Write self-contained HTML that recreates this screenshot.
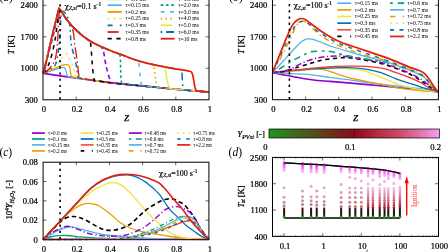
<!DOCTYPE html>
<html><head><meta charset="utf-8"><title>Figure</title>
<style>html,body{margin:0;padding:0;background:#fff;width:448px;height:252px;overflow:hidden}svg{display:block}</style>
</head><body>
<svg width="448" height="252" viewBox="0 0 448 252" font-family="'Liberation Serif', serif" fill="#000">
<rect width="448" height="252" fill="#fff"/>
<text x="37.8" y="102.89999999999999" font-size="8.6" text-anchor="end" stroke="#000" stroke-width="0.22">300</text>
<path d="M43.0,68.30 h3.5 M209.0,68.30 h-3.5" stroke="#000" stroke-width="0.6"/>
<text x="37.8" y="71.39999999999999" font-size="8.6" text-anchor="end" stroke="#000" stroke-width="0.22">1000</text>
<path d="M43.0,36.80 h3.5 M209.0,36.80 h-3.5" stroke="#000" stroke-width="0.6"/>
<text x="37.8" y="39.9" font-size="8.6" text-anchor="end" stroke="#000" stroke-width="0.22">1700</text>
<path d="M43.0,5.30 h3.5 M209.0,5.30 h-3.5" stroke="#000" stroke-width="0.6"/>
<text x="37.8" y="8.399999999999997" font-size="8.6" text-anchor="end" stroke="#000" stroke-width="0.22">2400</text>
<text x="43.9" y="112.1" font-size="8.6" text-anchor="middle" stroke="#000" stroke-width="0.22">0</text>
<path d="M76.20,99.8 v-3.2 M76.20,-8.200000000000003 v3.2" stroke="#000" stroke-width="0.6"/>
<text x="77.10000000000001" y="112.1" font-size="8.6" text-anchor="middle" stroke="#000" stroke-width="0.22">0.2</text>
<path d="M109.40,99.8 v-3.2 M109.40,-8.200000000000003 v3.2" stroke="#000" stroke-width="0.6"/>
<text x="110.30000000000001" y="112.1" font-size="8.6" text-anchor="middle" stroke="#000" stroke-width="0.22">0.4</text>
<path d="M142.60,99.8 v-3.2 M142.60,-8.200000000000003 v3.2" stroke="#000" stroke-width="0.6"/>
<text x="143.5" y="112.1" font-size="8.6" text-anchor="middle" stroke="#000" stroke-width="0.22">0.6</text>
<path d="M175.80,99.8 v-3.2 M175.80,-8.200000000000003 v3.2" stroke="#000" stroke-width="0.6"/>
<text x="176.70000000000002" y="112.1" font-size="8.6" text-anchor="middle" stroke="#000" stroke-width="0.22">0.8</text>
<text x="209.9" y="112.1" font-size="8.6" text-anchor="middle" stroke="#000" stroke-width="0.22">1</text>
<text x="267.25" y="102.8" font-size="8.6" text-anchor="end" stroke="#000" stroke-width="0.22">300</text>
<path d="M272.45,68.20 h3.5 M438.4,68.20 h-3.5" stroke="#000" stroke-width="0.6"/>
<text x="267.25" y="71.3" font-size="8.6" text-anchor="end" stroke="#000" stroke-width="0.22">1000</text>
<path d="M272.45,36.70 h3.5 M438.4,36.70 h-3.5" stroke="#000" stroke-width="0.6"/>
<text x="267.25" y="39.800000000000004" font-size="8.6" text-anchor="end" stroke="#000" stroke-width="0.22">1700</text>
<path d="M272.45,5.20 h3.5 M438.4,5.20 h-3.5" stroke="#000" stroke-width="0.6"/>
<text x="267.25" y="8.300000000000002" font-size="8.6" text-anchor="end" stroke="#000" stroke-width="0.22">2400</text>
<text x="273.34999999999997" y="112.0" font-size="8.6" text-anchor="middle" stroke="#000" stroke-width="0.22">0</text>
<path d="M305.64,99.7 v-3.2 M305.64,-8.299999999999997 v3.2" stroke="#000" stroke-width="0.6"/>
<text x="306.53999999999996" y="112.0" font-size="8.6" text-anchor="middle" stroke="#000" stroke-width="0.22">0.2</text>
<path d="M338.83,99.7 v-3.2 M338.83,-8.299999999999997 v3.2" stroke="#000" stroke-width="0.6"/>
<text x="339.72999999999996" y="112.0" font-size="8.6" text-anchor="middle" stroke="#000" stroke-width="0.22">0.4</text>
<path d="M372.02,99.7 v-3.2 M372.02,-8.299999999999997 v3.2" stroke="#000" stroke-width="0.6"/>
<text x="372.91999999999996" y="112.0" font-size="8.6" text-anchor="middle" stroke="#000" stroke-width="0.22">0.6</text>
<path d="M405.21,99.7 v-3.2 M405.21,-8.299999999999997 v3.2" stroke="#000" stroke-width="0.6"/>
<text x="406.10999999999996" y="112.0" font-size="8.6" text-anchor="middle" stroke="#000" stroke-width="0.22">0.8</text>
<text x="439.29999999999995" y="112.0" font-size="8.6" text-anchor="middle" stroke="#000" stroke-width="0.22">1</text>
<text x="37.9" y="242.6" font-size="8.6" text-anchor="end" stroke="#000" stroke-width="0.22">0</text>
<path d="M43.1,220.18 h3.5 M208.9,220.18 h-3.5" stroke="#000" stroke-width="0.6"/>
<text x="37.9" y="223.275" font-size="8.6" text-anchor="end" stroke="#000" stroke-width="0.22">0.02</text>
<path d="M43.1,200.85 h3.5 M208.9,200.85 h-3.5" stroke="#000" stroke-width="0.6"/>
<text x="37.9" y="203.95" font-size="8.6" text-anchor="end" stroke="#000" stroke-width="0.22">0.04</text>
<path d="M43.1,181.52 h3.5 M208.9,181.52 h-3.5" stroke="#000" stroke-width="0.6"/>
<text x="37.9" y="184.62499999999997" font-size="8.6" text-anchor="end" stroke="#000" stroke-width="0.22">0.06</text>
<text x="37.9" y="165.29999999999998" font-size="8.6" text-anchor="end" stroke="#000" stroke-width="0.22">0.08</text>
<text x="44.0" y="251.5" font-size="8.6" text-anchor="middle" stroke="#000" stroke-width="0.22">0</text>
<path d="M76.26,239.5 v-3.2 M76.26,162.2 v3.2" stroke="#000" stroke-width="0.6"/>
<text x="77.16000000000001" y="251.5" font-size="8.6" text-anchor="middle" stroke="#000" stroke-width="0.22">0.2</text>
<path d="M109.42,239.5 v-3.2 M109.42,162.2 v3.2" stroke="#000" stroke-width="0.6"/>
<text x="110.32000000000002" y="251.5" font-size="8.6" text-anchor="middle" stroke="#000" stroke-width="0.22">0.4</text>
<path d="M142.58,239.5 v-3.2 M142.58,162.2 v3.2" stroke="#000" stroke-width="0.6"/>
<text x="143.48000000000002" y="251.5" font-size="8.6" text-anchor="middle" stroke="#000" stroke-width="0.22">0.6</text>
<path d="M175.74,239.5 v-3.2 M175.74,162.2 v3.2" stroke="#000" stroke-width="0.6"/>
<text x="176.64000000000001" y="251.5" font-size="8.6" text-anchor="middle" stroke="#000" stroke-width="0.22">0.8</text>
<text x="209.8" y="251.5" font-size="8.6" text-anchor="middle" stroke="#000" stroke-width="0.22">1</text>
<text x="267.3" y="239.5" font-size="8.6" text-anchor="end" stroke="#000" stroke-width="0.22">400</text>
<path d="M272.5,210.07 h3.5 M438.5,210.07 h-3.5" stroke="#000" stroke-width="0.6"/>
<text x="267.3" y="213.16666666666666" font-size="8.6" text-anchor="end" stroke="#000" stroke-width="0.22">1100</text>
<path d="M272.5,183.73 h3.5 M438.5,183.73 h-3.5" stroke="#000" stroke-width="0.6"/>
<text x="267.3" y="186.83333333333334" font-size="8.6" text-anchor="end" stroke="#000" stroke-width="0.22">1800</text>
<text x="267.3" y="160.5" font-size="8.6" text-anchor="end" stroke="#000" stroke-width="0.22">2500</text>
<path d="M284.12,236.4 v-3.2 M284.12,157.4 v3.2" stroke="#000" stroke-width="0.6"/>
<text x="285.01837497776074" y="248.70000000000002" font-size="8.6" text-anchor="middle" stroke="#000" stroke-width="0.22">0.1</text>
<path d="M322.71,236.4 v-3.2 M322.71,157.4 v3.2" stroke="#000" stroke-width="0.6"/>
<text x="323.61378123332054" y="248.70000000000002" font-size="8.6" text-anchor="middle" stroke="#000" stroke-width="0.22">1</text>
<path d="M361.31,236.4 v-3.2 M361.31,157.4 v3.2" stroke="#000" stroke-width="0.6"/>
<text x="362.2091874888804" y="248.70000000000002" font-size="8.6" text-anchor="middle" stroke="#000" stroke-width="0.22">10</text>
<path d="M399.90,236.4 v-3.2 M399.90,157.4 v3.2" stroke="#000" stroke-width="0.6"/>
<text x="400.8045937444402" y="248.70000000000002" font-size="8.6" text-anchor="middle" stroke="#000" stroke-width="0.22">100</text>
<text x="439.4" y="248.70000000000002" font-size="8.6" text-anchor="middle" stroke="#000" stroke-width="0.22">1000</text>
<path d="M275.56,236.4 v-1.6 M275.56,157.4 v1.6 M278.14,236.4 v-1.6 M278.14,157.4 v1.6 M280.38,236.4 v-1.6 M280.38,157.4 v1.6 M282.35,236.4 v-1.6 M282.35,157.4 v1.6 M295.74,236.4 v-1.6 M295.74,157.4 v1.6 M302.53,236.4 v-1.6 M302.53,157.4 v1.6 M307.36,236.4 v-1.6 M307.36,157.4 v1.6 M311.10,236.4 v-1.6 M311.10,157.4 v1.6 M314.15,236.4 v-1.6 M314.15,157.4 v1.6 M316.74,236.4 v-1.6 M316.74,157.4 v1.6 M318.97,236.4 v-1.6 M318.97,157.4 v1.6 M320.95,236.4 v-1.6 M320.95,157.4 v1.6 M334.33,236.4 v-1.6 M334.33,157.4 v1.6 M341.13,236.4 v-1.6 M341.13,157.4 v1.6 M345.95,236.4 v-1.6 M345.95,157.4 v1.6 M349.69,236.4 v-1.6 M349.69,157.4 v1.6 M352.75,236.4 v-1.6 M352.75,157.4 v1.6 M355.33,236.4 v-1.6 M355.33,157.4 v1.6 M357.57,236.4 v-1.6 M357.57,157.4 v1.6 M359.54,236.4 v-1.6 M359.54,157.4 v1.6 M372.93,236.4 v-1.6 M372.93,157.4 v1.6 M379.72,236.4 v-1.6 M379.72,157.4 v1.6 M384.55,236.4 v-1.6 M384.55,157.4 v1.6 M388.29,236.4 v-1.6 M388.29,157.4 v1.6 M391.34,236.4 v-1.6 M391.34,157.4 v1.6 M393.93,236.4 v-1.6 M393.93,157.4 v1.6 M396.16,236.4 v-1.6 M396.16,157.4 v1.6 M398.14,236.4 v-1.6 M398.14,157.4 v1.6 M411.52,236.4 v-1.6 M411.52,157.4 v1.6 M418.32,236.4 v-1.6 M418.32,157.4 v1.6 M423.14,236.4 v-1.6 M423.14,157.4 v1.6 M426.88,236.4 v-1.6 M426.88,157.4 v1.6 M429.94,236.4 v-1.6 M429.94,157.4 v1.6 M432.52,236.4 v-1.6 M432.52,157.4 v1.6 M434.76,236.4 v-1.6 M434.76,157.4 v1.6 M436.73,236.4 v-1.6 M436.73,157.4 v1.6 " stroke="#444" stroke-width="0.5"/>
<rect x="366.6" y="249.6" width="1.0" height="2.4" fill="#666"/>
<path d="M43.20,73.40 C46.67,73.88 56.20,75.22 64.00,76.30 C71.80,77.38 81.67,78.77 90.00,79.90 C98.33,81.03 104.00,81.97 114.00,83.10 C124.00,84.23 140.00,85.70 150.00,86.70 C160.00,87.70 166.33,88.38 174.00,89.10 C181.67,89.82 190.17,90.52 196.00,91.00 C201.83,91.48 206.83,91.83 209.00,92.00" stroke="#9400d3" stroke-width="1.7" fill="none" stroke-linejoin="round" />
<path d="M43.20,73.40 C44.33,73.03 47.92,71.87 50.00,71.20 C52.08,70.53 54.03,69.90 55.70,69.40 C57.37,68.90 58.73,68.53 60.00,68.20 C61.27,67.87 62.47,67.38 63.30,67.40 C64.13,67.42 64.52,67.62 65.00,68.30 C65.48,68.98 65.87,70.42 66.20,71.50 C66.53,72.58 66.67,73.95 67.00,74.80 C67.33,75.65 67.37,76.20 68.20,76.60 C69.03,77.00 68.37,76.65 72.00,77.20 C75.63,77.75 83.00,78.92 90.00,79.90 C97.00,80.88 104.00,81.97 114.00,83.10 C124.00,84.23 140.00,85.70 150.00,86.70 C160.00,87.70 166.33,88.38 174.00,89.10 C181.67,89.82 190.17,90.52 196.00,91.00 C201.83,91.48 206.83,91.83 209.00,92.00" stroke="#56b4e9" stroke-width="1.2" fill="none" stroke-linejoin="round" />
<path d="M43.20,73.40 C44.33,72.92 47.92,71.40 50.00,70.50 C52.08,69.60 54.03,68.75 55.70,68.00 C57.37,67.25 58.70,66.53 60.00,66.00 C61.30,65.47 62.32,65.02 63.50,64.80 C64.68,64.58 66.12,64.47 67.10,64.70 C68.08,64.93 68.88,65.32 69.40,66.20 C69.92,67.08 69.97,68.67 70.20,70.00 C70.43,71.33 70.53,73.10 70.80,74.20 C71.07,75.30 71.18,76.07 71.80,76.60 C72.42,77.13 71.47,76.85 74.50,77.40 C77.53,77.95 83.42,78.95 90.00,79.90 C96.58,80.85 104.00,81.97 114.00,83.10 C124.00,84.23 140.00,85.70 150.00,86.70 C160.00,87.70 166.33,88.38 174.00,89.10 C181.67,89.82 190.17,90.52 196.00,91.00 C201.83,91.48 206.83,91.83 209.00,92.00" stroke="#e69f00" stroke-width="1.3" fill="none" stroke-linejoin="round" />
<path d="M43.20,73.40 C44.67,72.50 49.28,69.97 52.00,68.00 C54.72,66.03 57.72,63.38 59.50,61.60 C61.28,59.82 61.70,58.57 62.70,57.30 C63.70,56.03 64.70,54.42 65.50,54.00 C66.30,53.58 66.75,53.80 67.50,54.80 C68.25,55.80 69.12,58.17 70.00,60.00 C70.88,61.83 72.12,63.98 72.80,65.80 C73.48,67.62 73.67,69.10 74.10,70.90 C74.53,72.70 74.83,75.42 75.40,76.60 C75.97,77.78 75.07,77.45 77.50,78.00 C79.93,78.55 83.92,79.05 90.00,79.90 C96.08,80.75 104.00,81.97 114.00,83.10 C124.00,84.23 140.00,85.70 150.00,86.70 C160.00,87.70 166.33,88.38 174.00,89.10 C181.67,89.82 190.17,90.52 196.00,91.00 C201.83,91.48 206.83,91.83 209.00,92.00" stroke="#f0e442" stroke-width="1.6" fill="none" stroke-dasharray="2,4" stroke-linejoin="round" />
<path d="M43.20,73.40 C44.33,72.75 47.95,70.98 50.00,69.50 C52.05,68.02 54.13,67.42 55.50,64.50 C56.87,61.58 57.45,56.92 58.20,52.00 C58.95,47.08 59.57,40.33 60.00,35.00 C60.43,29.67 60.50,23.75 60.80,20.00 C61.10,16.25 61.35,13.92 61.80,12.50 C62.25,11.08 62.63,10.92 63.50,11.50 C64.37,12.08 66.00,13.92 67.00,16.00 C68.00,18.08 68.93,20.83 69.50,24.00 C70.07,27.17 70.07,31.33 70.40,35.00 C70.73,38.67 70.87,42.50 71.50,46.00 C72.13,49.50 73.42,52.83 74.20,56.00 C74.98,59.17 75.70,62.33 76.20,65.00 C76.70,67.67 76.87,69.93 77.20,72.00 C77.53,74.07 77.57,76.35 78.20,77.40 C78.83,78.45 79.03,77.88 81.00,78.30 C82.97,78.72 84.50,79.10 90.00,79.90 C95.50,80.70 104.00,81.97 114.00,83.10 C124.00,84.23 140.00,85.70 150.00,86.70 C160.00,87.70 166.33,88.38 174.00,89.10 C181.67,89.82 190.17,90.52 196.00,91.00 C201.83,91.48 206.83,91.83 209.00,92.00" stroke="#0072b2" stroke-width="1.5" fill="none" stroke-dasharray="5,3.5,1.7,3.5" stroke-linejoin="round" />
<path d="M43.20,73.40 C44.33,72.50 47.95,70.57 50.00,68.00 C52.05,65.43 54.25,62.33 55.50,58.00 C56.75,53.67 57.00,47.50 57.50,42.00 C58.00,36.50 58.17,30.25 58.50,25.00 C58.83,19.75 59.00,12.75 59.50,10.50 C60.00,8.25 60.37,10.05 61.50,11.50 C62.63,12.95 64.63,16.75 66.30,19.20 C67.97,21.65 70.28,23.73 71.50,26.20 C72.72,28.67 73.05,30.87 73.60,34.00 C74.15,37.13 74.32,41.33 74.80,45.00 C75.28,48.67 76.00,52.50 76.50,56.00 C77.00,59.50 77.45,63.00 77.80,66.00 C78.15,69.00 78.30,72.00 78.60,74.00 C78.90,76.00 79.03,77.23 79.60,78.00 C80.17,78.77 80.27,78.28 82.00,78.60 C83.73,78.92 84.67,79.15 90.00,79.90 C95.33,80.65 104.00,81.97 114.00,83.10 C124.00,84.23 140.00,85.70 150.00,86.70 C160.00,87.70 166.33,88.38 174.00,89.10 C181.67,89.82 190.17,90.52 196.00,91.00 C201.83,91.48 206.83,91.83 209.00,92.00" stroke="#e51e10" stroke-width="1.4" fill="none" stroke-dasharray="11,3,1.5,3" stroke-linejoin="round" />
<path d="M43.20,73.40 C44.02,72.13 46.65,68.98 48.10,65.80 C49.55,62.62 50.67,59.10 51.90,54.30 C53.13,49.50 54.32,44.62 55.50,37.00 C56.68,29.38 58.42,13.33 59.00,8.60 C59.42,9.10 60.28,9.87 61.50,11.60 C62.72,13.33 64.43,16.50 66.30,19.00 C68.17,21.50 71.08,24.80 72.70,26.60 C74.32,28.40 74.33,28.25 76.00,29.80 C77.67,31.35 80.48,34.11 82.70,35.90 C84.92,37.69 87.92,38.78 89.30,40.56 C90.68,42.33 90.51,42.89 90.98,46.55 C91.44,50.21 91.58,57.06 92.11,62.52 C92.63,67.98 93.38,76.25 94.10,79.29 C94.82,82.33 93.08,80.12 96.40,80.75 C99.72,81.39 105.07,82.11 114.00,83.10 C122.93,84.09 140.00,85.70 150.00,86.70 C160.00,87.70 166.33,88.38 174.00,89.10 C181.67,89.82 190.17,90.52 196.00,91.00 C201.83,91.48 206.83,91.83 209.00,92.00" stroke="#000000" stroke-width="1.5" fill="none" stroke-dasharray="4.2,4.6" stroke-linejoin="round" />
<path d="M43.20,73.40 C43.58,71.92 44.37,68.73 45.50,64.50 C46.63,60.27 48.50,53.75 50.00,48.00 C51.50,42.25 53.00,36.62 54.50,30.00 C56.00,23.38 58.25,11.92 59.00,8.30 C59.42,8.85 60.28,9.82 61.50,11.60 C62.72,13.38 64.43,16.50 66.30,19.00 C68.17,21.50 71.08,24.80 72.70,26.60 C74.32,28.40 74.33,28.25 76.00,29.80 C77.67,31.35 80.45,34.08 82.70,35.90 C84.95,37.72 87.25,39.32 89.50,40.70 C91.75,42.08 94.37,43.27 96.20,44.20 C98.03,45.13 99.29,45.03 100.50,46.29 C101.71,47.54 102.53,48.41 103.48,51.74 C104.42,55.08 104.99,61.34 106.16,66.30 C107.34,71.25 109.39,78.70 110.50,81.47 C111.61,84.25 112.22,82.67 112.80,82.94 C113.38,83.21 107.80,82.47 114.00,83.10 C120.20,83.73 140.00,85.70 150.00,86.70 C160.00,87.70 166.33,88.38 174.00,89.10 C181.67,89.82 190.17,90.52 196.00,91.00 C201.83,91.48 206.83,91.83 209.00,92.00" stroke="#9400d3" stroke-width="1.6" fill="none" stroke-dasharray="4.5,3.2" stroke-linejoin="round" />
<path d="M43.20,73.40 C44.50,67.92 48.37,51.38 51.00,40.50 C53.63,29.62 57.67,13.50 59.00,8.10 C59.42,8.68 60.28,9.78 61.50,11.60 C62.72,13.42 64.43,16.50 66.30,19.00 C68.17,21.50 71.08,24.80 72.70,26.60 C74.32,28.40 74.33,28.25 76.00,29.80 C77.67,31.35 80.45,34.08 82.70,35.90 C84.95,37.72 87.25,39.32 89.50,40.70 C91.75,42.08 93.95,43.07 96.20,44.20 C98.45,45.33 100.75,46.48 103.00,47.50 C105.25,48.52 107.47,49.40 109.70,50.30 C111.93,51.20 114.80,52.29 116.40,52.90 C118.00,53.51 118.65,53.01 119.30,53.93 C119.95,54.85 120.10,55.68 120.33,58.42 C120.55,61.17 120.48,66.36 120.67,70.40 C120.87,74.45 120.98,80.40 121.50,82.68 C122.02,84.96 119.05,83.41 123.80,84.08 C128.55,84.75 141.63,85.86 150.00,86.70 C158.37,87.54 166.33,88.38 174.00,89.10 C181.67,89.82 190.17,90.52 196.00,91.00 C201.83,91.48 206.83,91.83 209.00,92.00" stroke="#009e73" stroke-width="1.5" fill="none" stroke-dasharray="2.7,2.5" stroke-linejoin="round" />
<path d="M43.20,73.40 C44.50,67.92 48.37,51.38 51.00,40.50 C53.63,29.62 57.67,13.50 59.00,8.10 C59.42,8.68 60.28,9.78 61.50,11.60 C62.72,13.42 64.43,16.50 66.30,19.00 C68.17,21.50 71.08,24.80 72.70,26.60 C74.32,28.40 74.33,28.25 76.00,29.80 C77.67,31.35 80.45,34.08 82.70,35.90 C84.95,37.72 87.25,39.32 89.50,40.70 C91.75,42.08 93.95,43.07 96.20,44.20 C98.45,45.33 100.75,46.48 103.00,47.50 C105.25,48.52 107.47,49.40 109.70,50.30 C111.93,51.20 114.02,52.02 116.40,52.90 C118.78,53.78 121.40,54.62 124.00,55.60 C126.60,56.58 129.75,57.98 132.00,58.80 C134.25,59.62 136.34,59.59 137.50,60.51 C138.66,61.43 138.58,61.99 138.97,64.32 C139.37,66.64 139.44,71.07 139.87,74.46 C140.29,77.86 140.84,82.74 141.50,84.68 C142.16,86.62 142.38,85.74 143.80,86.08 C145.22,86.42 144.97,86.20 150.00,86.70 C155.03,87.20 166.33,88.38 174.00,89.10 C181.67,89.82 190.17,90.52 196.00,91.00 C201.83,91.48 206.83,91.83 209.00,92.00" stroke="#56b4e9" stroke-width="1.5" fill="none" stroke-dasharray="3.8,5.5" stroke-linejoin="round" />
<path d="M43.20,73.40 C44.50,67.92 48.37,51.38 51.00,40.50 C53.63,29.62 57.67,13.50 59.00,8.10 C59.42,8.68 60.28,9.78 61.50,11.60 C62.72,13.42 64.43,16.50 66.30,19.00 C68.17,21.50 71.08,24.80 72.70,26.60 C74.32,28.40 74.33,28.25 76.00,29.80 C77.67,31.35 80.45,34.08 82.70,35.90 C84.95,37.72 87.25,39.32 89.50,40.70 C91.75,42.08 93.95,43.07 96.20,44.20 C98.45,45.33 100.75,46.48 103.00,47.50 C105.25,48.52 107.47,49.40 109.70,50.30 C111.93,51.20 114.02,52.02 116.40,52.90 C118.78,53.78 121.40,54.62 124.00,55.60 C126.60,56.58 129.17,57.80 132.00,58.80 C134.83,59.80 138.17,60.78 141.00,61.60 C143.83,62.42 147.08,63.23 149.00,63.70 C150.92,64.17 151.64,63.75 152.50,64.45 C153.36,65.15 153.69,65.79 154.15,67.90 C154.61,70.01 154.74,74.04 155.25,77.10 C155.76,80.16 156.49,84.49 157.20,86.25 C157.91,88.01 156.70,87.18 159.50,87.65 C162.30,88.12 167.92,88.54 174.00,89.10 C180.08,89.66 190.17,90.52 196.00,91.00 C201.83,91.48 206.83,91.83 209.00,92.00" stroke="#e69f00" stroke-width="1.6" fill="none" stroke-dasharray="1.5,3.2" stroke-linejoin="round" />
<path d="M43.20,73.40 C44.50,67.92 48.37,51.38 51.00,40.50 C53.63,29.62 57.67,13.50 59.00,8.10 C59.42,8.68 60.28,9.78 61.50,11.60 C62.72,13.42 64.43,16.50 66.30,19.00 C68.17,21.50 71.08,24.80 72.70,26.60 C74.32,28.40 74.33,28.25 76.00,29.80 C77.67,31.35 80.45,34.08 82.70,35.90 C84.95,37.72 87.25,39.32 89.50,40.70 C91.75,42.08 93.95,43.07 96.20,44.20 C98.45,45.33 100.75,46.48 103.00,47.50 C105.25,48.52 107.47,49.40 109.70,50.30 C111.93,51.20 114.02,52.02 116.40,52.90 C118.78,53.78 121.40,54.62 124.00,55.60 C126.60,56.58 129.17,57.80 132.00,58.80 C134.83,59.80 138.17,60.78 141.00,61.60 C143.83,62.42 146.18,63.03 149.00,63.70 C151.82,64.37 155.48,65.10 157.90,65.60 C160.32,66.10 162.25,65.97 163.50,66.71 C164.75,67.44 164.85,67.99 165.40,70.00 C165.95,72.01 166.17,75.87 166.80,78.78 C167.43,81.68 168.42,85.77 169.20,87.45 C169.98,89.13 170.70,88.57 171.50,88.85 C172.30,89.12 169.92,88.74 174.00,89.10 C178.08,89.46 190.17,90.52 196.00,91.00 C201.83,91.48 206.83,91.83 209.00,92.00" stroke="#f0e442" stroke-width="1.4" fill="none" stroke-linejoin="round" />
<path d="M43.20,73.40 C44.50,67.92 48.37,51.38 51.00,40.50 C53.63,29.62 57.67,13.50 59.00,8.10 C59.42,8.68 60.28,9.78 61.50,11.60 C62.72,13.42 64.43,16.50 66.30,19.00 C68.17,21.50 71.08,24.80 72.70,26.60 C74.32,28.40 74.33,28.25 76.00,29.80 C77.67,31.35 80.45,34.08 82.70,35.90 C84.95,37.72 87.25,39.32 89.50,40.70 C91.75,42.08 93.95,43.07 96.20,44.20 C98.45,45.33 100.75,46.48 103.00,47.50 C105.25,48.52 107.47,49.40 109.70,50.30 C111.93,51.20 114.02,52.02 116.40,52.90 C118.78,53.78 121.40,54.62 124.00,55.60 C126.60,56.58 129.17,57.80 132.00,58.80 C134.83,59.80 138.17,60.78 141.00,61.60 C143.83,62.42 146.18,63.03 149.00,63.70 C151.82,64.37 155.07,65.02 157.90,65.60 C160.73,66.18 163.18,66.67 166.00,67.20 C168.82,67.73 172.30,68.38 174.80,68.80 C177.30,69.22 179.80,69.08 181.00,69.74 C182.20,70.41 181.80,70.92 182.03,72.77 C182.25,74.62 182.18,78.18 182.38,80.84 C182.57,83.50 182.68,87.18 183.20,88.72 C183.72,90.26 183.37,89.71 185.50,90.09 C187.63,90.47 192.08,90.68 196.00,91.00 C199.92,91.32 206.83,91.83 209.00,92.00" stroke="#0072b2" stroke-width="1.5" fill="none" stroke-dasharray="1.6,3.9,7.8,3.9" stroke-linejoin="round" />
<path d="M43.20,73.40 C43.67,71.75 44.70,68.98 46.00,63.50 C47.30,58.02 49.50,47.05 51.00,40.50 C52.50,33.95 53.67,29.60 55.00,24.20 C56.33,18.80 58.33,10.78 59.00,8.10 C59.42,8.68 60.28,9.78 61.50,11.60 C62.72,13.42 64.43,16.50 66.30,19.00 C68.17,21.50 71.08,24.80 72.70,26.60 C74.32,28.40 74.33,28.25 76.00,29.80 C77.67,31.35 80.45,34.08 82.70,35.90 C84.95,37.72 87.25,39.32 89.50,40.70 C91.75,42.08 93.95,43.07 96.20,44.20 C98.45,45.33 100.75,46.48 103.00,47.50 C105.25,48.52 107.47,49.40 109.70,50.30 C111.93,51.20 114.02,52.02 116.40,52.90 C118.78,53.78 121.40,54.62 124.00,55.60 C126.60,56.58 129.17,57.80 132.00,58.80 C134.83,59.80 138.17,60.78 141.00,61.60 C143.83,62.42 146.18,63.03 149.00,63.70 C151.82,64.37 155.07,65.02 157.90,65.60 C160.73,66.18 163.18,66.67 166.00,67.20 C168.82,67.73 171.80,68.30 174.80,68.80 C177.80,69.30 181.53,69.80 184.00,70.20 C186.47,70.60 188.33,70.87 189.60,71.20 C190.87,71.53 191.07,71.53 191.60,72.20 C192.13,72.87 192.48,74.10 192.80,75.20 C193.12,76.30 193.23,77.25 193.50,78.80 C193.77,80.35 194.08,82.82 194.40,84.50 C194.72,86.18 194.98,87.83 195.40,88.90 C195.82,89.97 196.13,90.50 196.90,90.90 C197.67,91.30 197.98,91.12 200.00,91.30 C202.02,91.48 207.50,91.88 209.00,92.00" stroke="#e51e10" stroke-width="1.7" fill="none" stroke-linejoin="round" />
<path d="M60.1,99.40 V3.0" stroke="#000" stroke-width="1.6" stroke-dasharray="2.1,4.1"/>
<path d="M272.45,72.60 C275.38,73.17 283.46,74.82 290.00,76.00 C296.54,77.18 305.03,78.80 311.70,79.70 C318.37,80.60 323.95,80.87 330.00,81.40 C336.05,81.93 339.67,82.17 348.00,82.90 C356.33,83.63 369.67,84.82 380.00,85.80 C390.33,86.78 400.27,87.78 410.00,88.80 C419.73,89.82 433.67,91.38 438.40,91.90" stroke="#9400d3" stroke-width="1.6" fill="none" stroke-linejoin="round" />
<path d="M272.45,72.60 C275.38,72.77 284.07,73.30 290.00,73.60 C295.93,73.90 301.33,73.77 308.00,74.40 C314.67,75.03 323.33,76.53 330.00,77.40 C336.67,78.27 339.67,78.47 348.00,79.60 C356.33,80.73 368.00,82.68 380.00,84.20 C392.00,85.72 410.27,87.42 420.00,88.70 C429.73,89.98 435.33,91.37 438.40,91.90" stroke="#56b4e9" stroke-width="1.3" fill="none" stroke-linejoin="round" />
<path d="M272.45,72.60 C275.38,72.43 284.57,72.03 290.00,71.60 C295.43,71.17 300.67,70.40 305.00,70.00 C309.33,69.60 312.83,69.27 316.00,69.20 C319.17,69.13 321.33,69.10 324.00,69.60 C326.67,70.10 328.00,70.90 332.00,72.20 C336.00,73.50 342.50,75.90 348.00,77.40 C353.50,78.90 359.67,80.10 365.00,81.20 C370.33,82.30 374.83,82.93 380.00,84.00 C385.17,85.07 390.17,86.60 396.00,87.60 C401.83,88.60 407.93,89.28 415.00,90.00 C422.07,90.72 434.50,91.58 438.40,91.90" stroke="#e69f00" stroke-width="1.3" fill="none" stroke-linejoin="round" />
<path d="M272.45,72.60 C275.38,72.33 283.74,71.55 290.00,71.00 C296.26,70.45 303.33,69.77 310.00,69.30 C316.67,68.83 324.33,68.35 330.00,68.20 C335.67,68.05 339.83,68.20 344.00,68.40 C348.17,68.60 351.50,68.93 355.00,69.40 C358.50,69.87 360.83,69.97 365.00,71.20 C369.17,72.43 374.83,74.73 380.00,76.80 C385.17,78.87 391.33,81.90 396.00,83.60 C400.67,85.30 404.00,86.00 408.00,87.00 C412.00,88.00 414.93,88.78 420.00,89.60 C425.07,90.42 435.33,91.52 438.40,91.90" stroke="#f0e442" stroke-width="1.3" fill="none" stroke-linejoin="round" />
<path d="M272.45,72.60 C275.38,72.30 283.74,71.40 290.00,70.80 C296.26,70.20 303.33,69.47 310.00,69.00 C316.67,68.53 323.67,68.23 330.00,68.00 C336.33,67.77 342.33,67.47 348.00,67.60 C353.67,67.73 358.67,68.00 364.00,68.80 C369.33,69.60 374.67,70.73 380.00,72.40 C385.33,74.07 391.33,77.07 396.00,78.80 C400.67,80.53 404.00,81.47 408.00,82.80 C412.00,84.13 416.33,85.68 420.00,86.80 C423.67,87.92 426.93,88.65 430.00,89.50 C433.07,90.35 437.00,91.50 438.40,91.90" stroke="#0072b2" stroke-width="1.3" fill="none" stroke-linejoin="round" />
<path d="M272.45,72.60 C275.38,72.27 284.07,71.23 290.00,70.60 C295.93,69.97 302.33,69.37 308.00,68.80 C313.67,68.23 317.33,67.63 324.00,67.20 C330.67,66.77 341.00,66.33 348.00,66.20 C355.00,66.07 360.00,66.00 366.00,66.40 C372.00,66.80 379.00,67.57 384.00,68.60 C389.00,69.63 392.00,71.22 396.00,72.60 C400.00,73.98 404.03,75.30 408.00,76.90 C411.97,78.50 416.80,80.68 419.80,82.20 C422.80,83.72 423.97,84.78 426.00,86.00 C428.03,87.22 429.93,88.52 432.00,89.50 C434.07,90.48 437.33,91.50 438.40,91.90" stroke="#f03a30" stroke-width="1.3" fill="none" stroke-linejoin="round" />
<path d="M272.45,72.60 C274.54,72.38 281.11,72.08 285.00,71.30 C288.89,70.52 291.62,69.20 295.80,67.90 C299.98,66.60 306.48,64.62 310.10,63.50 C313.72,62.38 314.68,61.90 317.50,61.20 C320.32,60.50 323.82,59.80 327.00,59.30 C330.18,58.80 333.10,58.45 336.60,58.20 C340.10,57.95 343.43,57.50 348.00,57.80 C352.57,58.10 358.33,59.00 364.00,60.00 C369.67,61.00 376.67,62.40 382.00,63.80 C387.33,65.20 391.67,66.83 396.00,68.40 C400.33,69.97 404.03,71.27 408.00,73.20 C411.97,75.13 416.53,77.93 419.80,80.00 C423.07,82.07 425.55,84.23 427.60,85.60 C429.65,86.97 430.30,87.15 432.10,88.20 C433.90,89.25 437.35,91.28 438.40,91.90" stroke="#000000" stroke-width="1.5" fill="none" stroke-dasharray="4.2,3.6" stroke-linejoin="round" />
<path d="M272.45,72.60 C275.02,72.17 283.47,71.33 287.90,70.00 C292.32,68.67 295.65,66.17 299.00,64.60 C302.35,63.03 304.92,61.70 308.00,60.60 C311.08,59.50 314.33,58.68 317.50,58.00 C320.67,57.32 323.82,56.85 327.00,56.50 C330.18,56.15 333.43,55.88 336.60,55.90 C339.77,55.92 341.43,56.05 346.00,56.60 C350.57,57.15 358.00,58.17 364.00,59.20 C370.00,60.23 376.67,61.40 382.00,62.80 C387.33,64.20 391.67,66.00 396.00,67.60 C400.33,69.20 404.23,70.70 408.00,72.40 C411.77,74.10 415.33,75.83 418.60,77.80 C421.87,79.77 425.20,82.40 427.60,84.20 C430.00,86.00 431.20,87.32 433.00,88.60 C434.80,89.88 437.50,91.35 438.40,91.90" stroke="#9400d3" stroke-width="1.5" fill="none" stroke-dasharray="6,2.5,1.2,2.5" stroke-linejoin="round" />
<path d="M272.45,72.60 C273.56,72.03 276.26,70.92 279.10,69.20 C281.94,67.48 286.18,64.28 289.50,62.30 C292.82,60.32 296.42,58.65 299.00,57.30 C301.58,55.95 303.00,55.12 305.00,54.20 C307.00,53.28 307.85,52.33 311.00,51.80 C314.15,51.27 320.43,51.00 323.90,51.00 C327.37,51.00 328.45,51.13 331.80,51.80 C335.15,52.47 338.63,53.87 344.00,55.00 C349.37,56.13 357.33,57.43 364.00,58.60 C370.67,59.77 378.67,60.87 384.00,62.00 C389.33,63.13 392.00,64.13 396.00,65.40 C400.00,66.67 404.00,68.07 408.00,69.60 C412.00,71.13 417.23,73.30 420.00,74.60 C422.77,75.90 423.08,76.00 424.60,77.40 C426.12,78.80 427.60,81.20 429.10,83.00 C430.60,84.80 432.05,86.72 433.60,88.20 C435.15,89.68 437.60,91.28 438.40,91.90" stroke="#009e73" stroke-width="1.5" fill="none" stroke-dasharray="2.8,4.5,6.4,4.5" stroke-linejoin="round" />
<path d="M272.45,72.60 C273.38,71.62 276.07,68.77 278.00,66.70 C279.93,64.63 282.08,62.32 284.00,60.20 C285.92,58.08 287.53,56.15 289.50,54.00 C291.47,51.85 293.82,49.33 295.80,47.30 C297.78,45.27 299.87,43.08 301.40,41.80 C302.93,40.52 303.90,40.08 305.00,39.60 C306.10,39.12 306.83,38.97 308.00,38.90 C309.17,38.83 310.67,38.97 312.00,39.20 C313.33,39.43 314.02,39.60 316.00,40.30 C317.98,41.00 321.27,42.37 323.90,43.40 C326.53,44.43 327.78,45.17 331.80,46.50 C335.82,47.83 342.63,49.82 348.00,51.40 C353.37,52.98 358.00,54.37 364.00,56.00 C370.00,57.63 378.67,59.67 384.00,61.20 C389.33,62.73 392.00,63.80 396.00,65.20 C400.00,66.60 404.00,68.03 408.00,69.60 C412.00,71.17 417.23,73.27 420.00,74.60 C422.77,75.93 423.08,76.17 424.60,77.60 C426.12,79.03 427.60,81.42 429.10,83.20 C430.60,84.98 432.05,86.85 433.60,88.30 C435.15,89.75 437.60,91.30 438.40,91.90" stroke="#56b4e9" stroke-width="1.3" fill="none" stroke-linejoin="round" />
<path d="M272.45,72.60 C273.04,71.47 274.74,68.07 276.00,65.80 C277.26,63.53 278.67,61.33 280.00,59.00 C281.33,56.67 282.68,54.30 284.00,51.80 C285.32,49.30 286.73,46.37 287.90,44.00 C289.07,41.63 290.07,39.68 291.00,37.60 C291.93,35.52 292.70,33.33 293.50,31.50 C294.30,29.67 294.80,28.08 295.80,26.60 C296.80,25.12 298.18,23.48 299.50,22.60 C300.82,21.72 302.33,21.23 303.70,21.30 C305.07,21.37 306.32,21.92 307.70,23.00 C309.08,24.08 310.28,26.07 312.00,27.80 C313.72,29.53 316.02,31.77 318.00,33.40 C319.98,35.03 321.07,35.83 323.90,37.60 C326.73,39.37 330.98,42.03 335.00,44.00 C339.02,45.97 343.17,47.60 348.00,49.40 C352.83,51.20 358.00,53.00 364.00,54.80 C370.00,56.60 378.67,58.57 384.00,60.20 C389.33,61.83 392.00,63.13 396.00,64.60 C400.00,66.07 404.00,67.43 408.00,69.00 C412.00,70.57 417.23,72.67 420.00,74.00 C422.77,75.33 423.08,75.53 424.60,77.00 C426.12,78.47 427.60,80.95 429.10,82.80 C430.60,84.65 432.05,86.58 433.60,88.10 C435.15,89.62 437.60,91.27 438.40,91.90" stroke="#e69f00" stroke-width="1.5" fill="none" stroke-dasharray="5.3,4,1.4,4" stroke-linejoin="round" />
<path d="M272.45,72.60 C273.71,69.80 277.82,60.67 280.00,55.80 C282.18,50.93 283.83,47.07 285.50,43.40 C287.17,39.73 288.58,36.57 290.00,33.80 C291.42,31.03 292.67,28.73 294.00,26.80 C295.33,24.87 296.67,23.23 298.00,22.20 C299.33,21.17 300.67,20.73 302.00,20.60 C303.33,20.47 304.50,20.63 306.00,21.40 C307.50,22.17 309.00,23.60 311.00,25.20 C313.00,26.80 315.07,28.93 318.00,31.00 C320.93,33.07 324.93,35.53 328.60,37.60 C332.27,39.67 336.77,41.93 340.00,43.40 C343.23,44.87 344.00,44.97 348.00,46.40 C352.00,47.83 358.00,49.92 364.00,52.00 C370.00,54.08 378.67,57.00 384.00,58.90 C389.33,60.80 392.00,61.85 396.00,63.40 C400.00,64.95 404.00,66.50 408.00,68.20 C412.00,69.90 417.23,72.20 420.00,73.60 C422.77,75.00 423.08,75.13 424.60,76.60 C426.12,78.07 427.60,80.52 429.10,82.40 C430.60,84.28 432.05,86.32 433.60,87.90 C435.15,89.48 437.60,91.23 438.40,91.90" stroke="#f0e442" stroke-width="1.5" fill="none" stroke-dasharray="1.6,4.6" stroke-linejoin="round" />
<path d="M272.45,72.60 C273.71,69.93 277.74,61.40 280.00,56.60 C282.26,51.80 284.33,47.33 286.00,43.80 C287.67,40.27 288.67,38.07 290.00,35.40 C291.33,32.73 292.67,29.87 294.00,27.80 C295.33,25.73 296.67,24.10 298.00,23.00 C299.33,21.90 300.67,21.37 302.00,21.20 C303.33,21.03 304.50,21.23 306.00,22.00 C307.50,22.77 309.00,24.20 311.00,25.80 C313.00,27.40 315.07,29.53 318.00,31.60 C320.93,33.67 324.93,36.13 328.60,38.20 C332.27,40.27 336.77,42.53 340.00,44.00 C343.23,45.47 344.00,45.57 348.00,47.00 C352.00,48.43 358.00,50.50 364.00,52.60 C370.00,54.70 378.67,57.70 384.00,59.60 C389.33,61.50 392.00,62.47 396.00,64.00 C400.00,65.53 404.00,67.13 408.00,68.80 C412.00,70.47 417.23,72.63 420.00,74.00 C422.77,75.37 423.08,75.55 424.60,77.00 C426.12,78.45 427.60,80.87 429.10,82.70 C430.60,84.53 432.05,86.47 433.60,88.00 C435.15,89.53 437.60,91.25 438.40,91.90" stroke="#0072b2" stroke-width="1.4" fill="none" stroke-dasharray="4,5.5" stroke-linejoin="round" />
<path d="M272.45,72.60 C273.12,70.90 275.12,65.82 276.50,62.40 C277.88,58.98 279.47,55.15 280.70,52.10 C281.93,49.05 282.70,47.02 283.90,44.10 C285.10,41.18 286.72,37.35 287.90,34.60 C289.08,31.85 289.95,29.58 291.00,27.60 C292.05,25.62 293.00,24.05 294.20,22.70 C295.40,21.35 297.00,20.20 298.20,19.50 C299.40,18.80 300.22,18.50 301.40,18.50 C302.58,18.50 303.85,18.75 305.30,19.50 C306.75,20.25 308.33,21.67 310.10,23.00 C311.87,24.33 313.60,25.83 315.90,27.50 C318.20,29.17 321.25,31.28 323.90,33.00 C326.55,34.72 329.17,36.35 331.80,37.80 C334.43,39.25 337.00,40.52 339.70,41.70 C342.40,42.88 344.63,43.73 348.00,44.90 C351.37,46.07 355.28,47.17 359.90,48.70 C364.52,50.23 371.68,52.73 375.70,54.10 C379.72,55.47 380.62,55.68 384.00,56.90 C387.38,58.12 392.02,59.78 396.00,61.40 C399.98,63.02 403.93,65.03 407.90,66.60 C411.87,68.17 417.02,69.63 419.80,70.80 C422.58,71.97 423.05,72.23 424.60,73.60 C426.15,74.97 427.72,77.10 429.10,79.00 C430.48,80.90 431.63,83.10 432.90,85.00 C434.17,86.90 435.78,89.25 436.70,90.40 C437.62,91.55 438.12,91.65 438.40,91.90" stroke="#e51e10" stroke-width="1.7" fill="none" stroke-linejoin="round" />
<path d="M289.4,99.30 V1.0" stroke="#000" stroke-width="1.6" stroke-dasharray="2.3,3.9"/>
<path d="M43.1,239.5 H208.9" stroke="#9400d3" stroke-width="1.4" fill="none" stroke-linejoin="round" />
<path d="M43.10,239.50 C44.25,239.08 47.40,237.63 50.00,237.00 C52.60,236.37 55.87,235.95 58.70,235.70 C61.53,235.45 62.83,235.25 67.00,235.50 C71.17,235.75 76.20,236.67 83.70,237.20 C91.20,237.73 100.95,238.35 112.00,238.70 C123.05,239.05 133.85,239.17 150.00,239.30 C166.15,239.43 199.08,239.47 208.90,239.50" stroke="#009e73" stroke-width="1.3" fill="none" stroke-linejoin="round" />
<path d="M43.10,239.50 C44.25,238.75 47.40,236.55 50.00,235.00 C52.60,233.45 55.58,231.53 58.70,230.20 C61.82,228.87 65.82,227.40 68.70,227.00 C71.58,226.60 73.50,227.33 76.00,227.80 C78.50,228.27 79.65,228.77 83.70,229.80 C87.75,230.83 94.25,232.90 100.30,234.00 C106.35,235.10 111.72,235.67 120.00,236.40 C128.28,237.13 135.18,237.88 150.00,238.40 C164.82,238.92 199.08,239.32 208.90,239.50" stroke="#56b4e9" stroke-width="1.3" fill="none" stroke-linejoin="round" />
<path d="M43.10,239.50 C45.08,237.42 51.35,230.83 55.00,227.00 C58.65,223.17 61.67,219.62 65.00,216.50 C68.33,213.38 72.17,210.28 75.00,208.30 C77.83,206.32 79.72,205.43 82.00,204.60 C84.28,203.77 86.53,203.35 88.70,203.30 C90.87,203.25 93.12,203.77 95.00,204.30 C96.88,204.83 97.50,204.93 100.00,206.50 C102.50,208.07 106.67,211.03 110.00,213.70 C113.33,216.37 116.67,220.12 120.00,222.50 C123.33,224.88 126.67,226.55 130.00,228.00 C133.33,229.45 136.67,230.33 140.00,231.20 C143.33,232.07 145.00,232.32 150.00,233.20 C155.00,234.08 163.33,235.58 170.00,236.50 C176.67,237.42 183.52,238.20 190.00,238.70 C196.48,239.20 205.75,239.37 208.90,239.50" stroke="#e69f00" stroke-width="1.3" fill="none" stroke-linejoin="round" />
<path d="M43.10,239.50 C45.92,236.52 53.93,227.93 60.00,221.60 C66.07,215.27 74.50,206.33 79.50,201.50 C84.50,196.67 86.58,195.08 90.00,192.60 C93.42,190.12 97.17,188.10 100.00,186.60 C102.83,185.10 105.00,184.28 107.00,183.60 C109.00,182.92 110.33,182.57 112.00,182.50 C113.67,182.43 115.33,182.68 117.00,183.20 C118.67,183.72 120.50,184.63 122.00,185.60 C123.50,186.57 124.33,187.50 126.00,189.00 C127.67,190.50 129.67,192.12 132.00,194.60 C134.33,197.08 137.33,200.82 140.00,203.90 C142.67,206.98 146.00,210.88 148.00,213.10 C150.00,215.32 150.18,215.45 152.00,217.20 C153.82,218.95 156.40,221.37 158.90,223.60 C161.40,225.83 164.30,228.63 167.00,230.60 C169.70,232.57 171.27,234.03 175.10,235.40 C178.93,236.77 184.37,238.12 190.00,238.80 C195.63,239.48 205.75,239.38 208.90,239.50" stroke="#f0e442" stroke-width="1.3" fill="none" stroke-linejoin="round" />
<path d="M43.10,239.50 C45.92,236.47 53.93,227.85 60.00,221.30 C66.07,214.75 74.33,205.67 79.50,200.20 C84.67,194.73 87.25,191.70 91.00,188.50 C94.75,185.30 98.50,182.92 102.00,181.00 C105.50,179.08 108.83,177.97 112.00,177.00 C115.17,176.03 118.08,175.53 121.00,175.20 C123.92,174.87 127.00,174.73 129.50,175.00 C132.00,175.27 134.25,176.18 136.00,176.80 C137.75,177.42 138.33,177.77 140.00,178.70 C141.67,179.63 144.33,181.25 146.00,182.40 C147.67,183.55 148.33,184.18 150.00,185.60 C151.67,187.02 154.33,189.30 156.00,190.90 C157.67,192.50 158.70,193.55 160.00,195.20 C161.30,196.85 162.53,198.93 163.80,200.80 C165.07,202.67 166.43,204.77 167.60,206.40 C168.77,208.03 168.73,208.47 170.80,210.60 C172.87,212.73 177.47,216.77 180.00,219.20 C182.53,221.63 183.33,222.97 186.00,225.20 C188.67,227.43 193.33,230.70 196.00,232.60 C198.67,234.50 199.85,235.45 202.00,236.60 C204.15,237.75 207.75,239.02 208.90,239.50" stroke="#0072b2" stroke-width="1.3" fill="none" stroke-linejoin="round" />
<path d="M43.10,239.50 C49.25,239.48 68.85,239.48 80.00,239.40 C91.15,239.32 101.67,239.37 110.00,239.00 C118.33,238.63 123.33,238.20 130.00,237.20 C136.67,236.20 144.17,234.45 150.00,233.00 C155.83,231.55 160.33,230.03 165.00,228.50 C169.67,226.97 174.50,225.02 178.00,223.80 C181.50,222.58 183.67,221.63 186.00,221.20 C188.33,220.77 190.17,220.65 192.00,221.20 C193.83,221.75 195.33,222.87 197.00,224.50 C198.67,226.13 200.02,228.50 202.00,231.00 C203.98,233.50 207.75,238.08 208.90,239.50" stroke="#f03a30" stroke-width="1.3" fill="none" stroke-linejoin="round" />
<path d="M43.10,239.50 C44.58,237.92 49.13,232.95 52.00,230.00 C54.87,227.05 57.80,223.87 60.30,221.80 C62.80,219.73 64.77,218.48 67.00,217.60 C69.23,216.72 71.53,216.47 73.70,216.50 C75.87,216.53 77.78,217.08 80.00,217.80 C82.22,218.52 84.17,219.33 87.00,220.80 C89.83,222.27 94.00,225.08 97.00,226.60 C100.00,228.12 102.00,229.33 105.00,229.90 C108.00,230.47 111.67,230.48 115.00,230.00 C118.33,229.52 122.17,228.20 125.00,227.00 C127.83,225.80 129.67,224.60 132.00,222.80 C134.33,221.00 136.83,218.20 139.00,216.20 C141.17,214.20 143.17,212.30 145.00,210.80 C146.83,209.30 148.17,208.40 150.00,207.20 C151.83,206.00 154.12,204.67 156.00,203.60 C157.88,202.53 159.63,201.53 161.30,200.80 C162.97,200.07 164.38,199.53 166.00,199.20 C167.62,198.87 169.50,198.73 171.00,198.80 C172.50,198.87 173.67,199.10 175.00,199.60 C176.33,200.10 177.52,200.98 179.00,201.80 C180.48,202.62 182.40,203.30 183.90,204.50 C185.40,205.70 186.70,207.45 188.00,209.00 C189.30,210.55 190.37,211.88 191.70,213.80 C193.03,215.72 194.45,217.88 196.00,220.50 C197.55,223.12 198.85,226.33 201.00,229.50 C203.15,232.67 207.58,237.83 208.90,239.50" stroke="#000000" stroke-width="1.6" fill="none" stroke-dasharray="4.5,3" stroke-linejoin="round" />
<path d="M43.10,239.50 C44.25,238.58 47.40,235.72 50.00,234.00 C52.60,232.28 55.87,230.48 58.70,229.20 C61.53,227.92 64.23,226.47 67.00,226.30 C69.77,226.13 71.97,227.08 75.30,228.20 C78.63,229.32 82.83,231.77 87.00,233.00 C91.17,234.23 96.47,235.07 100.30,235.60 C104.13,236.13 105.88,236.27 110.00,236.20 C114.12,236.13 120.00,236.32 125.00,235.20 C130.00,234.08 135.83,231.53 140.00,229.50 C144.17,227.47 146.68,225.55 150.00,223.00 C153.32,220.45 157.20,216.50 159.90,214.20 C162.60,211.90 163.62,210.47 166.20,209.20 C168.78,207.93 172.35,206.67 175.40,206.60 C178.45,206.53 181.77,207.53 184.50,208.80 C187.23,210.07 189.72,212.00 191.80,214.20 C193.88,216.40 195.30,219.20 197.00,222.00 C198.70,224.80 200.02,228.08 202.00,231.00 C203.98,233.92 207.75,238.08 208.90,239.50" stroke="#9400d3" stroke-width="1.4" fill="none" stroke-dasharray="6,2.5,1.2,2.5" stroke-linejoin="round" />
<path d="M43.10,239.50 C50.92,239.48 78.02,239.52 90.00,239.40 C101.98,239.28 108.33,239.20 115.00,238.80 C121.67,238.40 125.00,238.08 130.00,237.00 C135.00,235.92 140.83,233.70 145.00,232.30 C149.17,230.90 151.67,230.07 155.00,228.60 C158.33,227.13 161.65,225.18 165.00,223.50 C168.35,221.82 172.27,219.65 175.10,218.50 C177.93,217.35 179.82,216.88 182.00,216.60 C184.18,216.32 186.20,216.23 188.20,216.80 C190.20,217.37 192.20,218.22 194.00,220.00 C195.80,221.78 197.33,225.00 199.00,227.50 C200.67,230.00 202.35,233.00 204.00,235.00 C205.65,237.00 208.08,238.75 208.90,239.50" stroke="#009e73" stroke-width="1.3" fill="none" stroke-dasharray="1,2.5,4.5,2.5" stroke-linejoin="round" />
<path d="M43.10,239.50 C50.92,239.48 78.02,239.53 90.00,239.40 C101.98,239.27 108.33,239.07 115.00,238.70 C121.67,238.33 125.00,238.02 130.00,237.20 C135.00,236.38 140.83,234.90 145.00,233.80 C149.17,232.70 151.67,231.90 155.00,230.60 C158.33,229.30 161.65,227.68 165.00,226.00 C168.35,224.32 172.27,221.97 175.10,220.50 C177.93,219.03 179.82,217.90 182.00,217.20 C184.18,216.50 186.37,216.10 188.20,216.30 C190.03,216.50 191.37,216.95 193.00,218.40 C194.63,219.85 196.33,222.48 198.00,225.00 C199.67,227.52 201.18,231.08 203.00,233.50 C204.82,235.92 207.92,238.50 208.90,239.50" stroke="#56b4e9" stroke-width="1.3" fill="none" stroke-linejoin="round" />
<path d="M43.10,239.50 C52.58,239.48 87.18,239.58 100.00,239.40 C112.82,239.22 113.33,239.07 120.00,238.40 C126.67,237.73 134.17,236.47 140.00,235.40 C145.83,234.33 150.50,233.40 155.00,232.00 C159.50,230.60 163.17,228.83 167.00,227.00 C170.83,225.17 174.83,222.47 178.00,221.00 C181.17,219.53 183.83,218.57 186.00,218.20 C188.17,217.83 189.33,217.92 191.00,218.80 C192.67,219.68 194.33,221.38 196.00,223.50 C197.67,225.62 198.85,228.83 201.00,231.50 C203.15,234.17 207.58,238.17 208.90,239.50" stroke="#e69f00" stroke-width="1.3" fill="none" stroke-dasharray="4,3.5,1,3.5" stroke-linejoin="round" />
<path d="M43.10,239.50 C52.58,239.48 87.18,239.62 100.00,239.40 C112.82,239.18 113.33,238.93 120.00,238.20 C126.67,237.47 134.17,236.13 140.00,235.00 C145.83,233.87 150.50,232.87 155.00,231.40 C159.50,229.93 163.17,228.05 167.00,226.20 C170.83,224.35 174.83,221.73 178.00,220.30 C181.17,218.87 183.83,217.92 186.00,217.60 C188.17,217.28 189.33,217.47 191.00,218.40 C192.67,219.33 194.33,221.05 196.00,223.20 C197.67,225.35 198.85,228.58 201.00,231.30 C203.15,234.02 207.58,238.13 208.90,239.50" stroke="#f0e442" stroke-width="1.3" fill="none" stroke-dasharray="1.2,2.5" stroke-linejoin="round" />
<path d="M43.10,239.50 C52.58,239.48 87.18,239.55 100.00,239.40 C112.82,239.25 113.33,239.17 120.00,238.60 C126.67,238.03 134.17,236.93 140.00,236.00 C145.83,235.07 150.50,234.23 155.00,233.00 C159.50,231.77 163.17,230.27 167.00,228.60 C170.83,226.93 174.83,224.40 178.00,223.00 C181.17,221.60 183.83,220.62 186.00,220.20 C188.17,219.78 189.33,219.78 191.00,220.50 C192.67,221.22 194.33,222.58 196.00,224.50 C197.67,226.42 198.85,229.50 201.00,232.00 C203.15,234.50 207.58,238.25 208.90,239.50" stroke="#0072b2" stroke-width="1.3" fill="none" stroke-dasharray="3,4" stroke-linejoin="round" />
<path d="M43.10,239.50 C45.92,236.45 53.93,227.78 60.00,221.20 C66.07,214.62 74.33,205.53 79.50,200.00 C84.67,194.47 87.25,191.25 91.00,188.00 C94.75,184.75 98.50,182.45 102.00,180.50 C105.50,178.55 109.00,177.28 112.00,176.30 C115.00,175.32 117.50,174.95 120.00,174.60 C122.50,174.25 124.67,174.18 127.00,174.20 C129.33,174.22 131.83,174.45 134.00,174.70 C136.17,174.95 138.00,175.25 140.00,175.70 C142.00,176.15 144.33,176.87 146.00,177.40 C147.67,177.93 148.33,178.23 150.00,178.90 C151.67,179.57 154.33,180.62 156.00,181.40 C157.67,182.18 158.28,182.12 160.00,183.60 C161.72,185.08 164.18,187.87 166.30,190.30 C168.42,192.73 170.42,195.53 172.70,198.20 C174.98,200.87 178.02,204.00 180.00,206.30 C181.98,208.60 182.60,209.38 184.60,212.00 C186.60,214.62 189.43,218.83 192.00,222.00 C194.57,225.17 197.18,228.08 200.00,231.00 C202.82,233.92 207.42,238.08 208.90,239.50" stroke="#e51e10" stroke-width="1.6" fill="none" stroke-linejoin="round" />
<path d="M60.1,239.10 V162.2" stroke="#000" stroke-width="1.6" stroke-dasharray="2.1,4.1"/>
<defs><linearGradient id="cb" x1="0" x2="1" y1="0" y2="0"><stop offset="0" stop-color="#1c961e"/><stop offset="0.5" stop-color="#8b0a1a"/><stop offset="0.62" stop-color="#b0283a"/><stop offset="0.76" stop-color="#cc4a64"/><stop offset="0.88" stop-color="#e070a4"/><stop offset="1" stop-color="#f79ef6"/></linearGradient><linearGradient id="dbar" x1="0" x2="0" y1="0" y2="1"><stop offset="0" stop-color="#5a1018"/><stop offset="0.45" stop-color="#2a0c08"/><stop offset="1" stop-color="#141a08"/></linearGradient></defs>
<rect x="269.0" y="129.0" width="170.60000000000002" height="9.0" fill="url(#cb)" stroke="#000" stroke-width="0.7"/>
<path d="M354.60,129.0 V138.0" stroke="#000" stroke-width="0.6" stroke-dasharray="1,1"/>
<text x="265.4" y="150.2" font-size="8.6" text-anchor="middle" stroke="#000" stroke-width="0.22">0</text>
<text x="350.3" y="150.2" font-size="8.6" text-anchor="middle" stroke="#000" stroke-width="0.22">0.1</text>
<text x="435.7" y="150.2" font-size="8.6" text-anchor="middle" stroke="#000" stroke-width="0.22">0.2</text>
<text x="237.2" y="137.0" font-size="8.6" stroke="#000" stroke-width="0.22"><tspan font-style="italic">Y</tspan><tspan font-size="6.4" font-style="italic" dy="1.8">PVst</tspan><tspan dy="-1.8"> [-]</tspan></text>
<path d="M284.12,162.90 C287.19,163.05 298.04,163.57 302.53,163.80 C307.03,164.03 308.73,164.17 311.10,164.30 C313.46,164.43 314.56,164.48 316.74,164.60 C318.91,164.72 320.09,164.70 324.16,165.00 C328.22,165.30 336.87,166.08 341.13,166.40 C345.38,166.72 347.32,166.75 349.69,166.90 C352.06,167.05 353.39,167.15 355.33,167.30 C357.27,167.45 359.18,167.62 361.31,167.80 C363.44,167.98 366.17,168.23 368.11,168.40 C370.04,168.57 370.99,168.60 372.93,168.80 C374.86,169.00 377.79,169.37 379.72,169.60 C381.66,169.83 383.12,170.00 384.55,170.20 C385.97,170.40 386.72,170.53 388.29,170.80 C389.85,171.07 391.99,171.37 393.93,171.80 C395.86,172.23 398.91,173.13 399.90,173.40" stroke="#000" stroke-width="1.3" fill="none"/>
<path d="M284.12,218.0 H399.90" stroke="#000" stroke-width="1.3"/>
<rect x="283.12" y="207.6" width="2.0" height="9.0" fill="url(#dbar)"/>
<rect x="301.53" y="207.6" width="2.0" height="9.0" fill="url(#dbar)"/>
<rect x="310.10" y="207.6" width="2.0" height="9.0" fill="url(#dbar)"/>
<rect x="315.74" y="207.6" width="2.0" height="9.0" fill="url(#dbar)"/>
<rect x="323.16" y="207.6" width="2.0" height="9.0" fill="url(#dbar)"/>
<rect x="340.13" y="207.6" width="2.0" height="9.0" fill="url(#dbar)"/>
<rect x="348.69" y="207.6" width="2.0" height="9.0" fill="url(#dbar)"/>
<rect x="354.33" y="207.6" width="2.0" height="9.0" fill="url(#dbar)"/>
<rect x="360.31" y="207.6" width="2.0" height="9.0" fill="url(#dbar)"/>
<rect x="367.11" y="206.8" width="2.0" height="9.8" fill="url(#dbar)"/>
<rect x="371.93" y="206.8" width="2.0" height="9.8" fill="url(#dbar)"/>
<rect x="378.72" y="206.8" width="2.0" height="9.8" fill="url(#dbar)"/>
<rect x="383.55" y="206.8" width="2.0" height="9.8" fill="url(#dbar)"/>
<rect x="387.29" y="206.8" width="2.0" height="9.8" fill="url(#dbar)"/>
<rect x="392.93" y="206.8" width="2.0" height="9.8" fill="url(#dbar)"/>
<rect x="398.90" y="206.8" width="2.0" height="9.8" fill="url(#dbar)"/>
<circle cx="284.12" cy="217.10" r="1.45" fill="#2a8a2a"/>
<circle cx="284.12" cy="187.80" r="1.5" fill="#eaa6cc"/>
<circle cx="284.12" cy="197.20" r="1.5" fill="#dc9eb0"/>
<circle cx="284.12" cy="202.20" r="1.5" fill="#cc9098"/>
<circle cx="284.12" cy="205.80" r="1.5" fill="#b88484"/>
<circle cx="284.12" cy="170.50" r="1.5" fill="#f8b8f4"/>
<circle cx="284.12" cy="168.50" r="1.5" fill="#f6a0f2"/>
<circle cx="284.12" cy="166.50" r="1.5" fill="#f47cf0"/>
<circle cx="284.12" cy="164.50" r="1.5" fill="#f058ee"/>
<circle cx="284.12" cy="162.70" r="1.5" fill="#ee44ec"/>
<circle cx="302.53" cy="217.10" r="1.45" fill="#2a8a2a"/>
<circle cx="302.53" cy="191.10" r="1.5" fill="#dc9eb0"/>
<circle cx="302.53" cy="196.70" r="1.5" fill="#dc9eb0"/>
<circle cx="302.53" cy="200.80" r="1.5" fill="#cc9098"/>
<circle cx="302.53" cy="204.40" r="1.5" fill="#b88484"/>
<circle cx="302.53" cy="171.40" r="1.5" fill="#f8b8f4"/>
<circle cx="302.53" cy="169.40" r="1.5" fill="#f6a0f2"/>
<circle cx="302.53" cy="167.40" r="1.5" fill="#f47cf0"/>
<circle cx="302.53" cy="165.40" r="1.5" fill="#f058ee"/>
<circle cx="302.53" cy="163.60" r="1.5" fill="#ee44ec"/>
<circle cx="311.10" cy="217.10" r="1.45" fill="#2a8a2a"/>
<circle cx="311.10" cy="186.30" r="1.5" fill="#eaa6cc"/>
<circle cx="311.10" cy="196.70" r="1.5" fill="#dc9eb0"/>
<circle cx="311.10" cy="200.80" r="1.5" fill="#cc9098"/>
<circle cx="311.10" cy="204.40" r="1.5" fill="#b88484"/>
<circle cx="311.10" cy="171.90" r="1.5" fill="#f8b8f4"/>
<circle cx="311.10" cy="169.90" r="1.5" fill="#f6a0f2"/>
<circle cx="311.10" cy="167.90" r="1.5" fill="#f47cf0"/>
<circle cx="311.10" cy="165.90" r="1.5" fill="#f058ee"/>
<circle cx="311.10" cy="164.10" r="1.5" fill="#ee44ec"/>
<circle cx="316.74" cy="217.10" r="1.45" fill="#2a8a2a"/>
<circle cx="316.74" cy="191.10" r="1.5" fill="#dc9eb0"/>
<circle cx="316.74" cy="196.70" r="1.5" fill="#dc9eb0"/>
<circle cx="316.74" cy="202.00" r="1.5" fill="#cc9098"/>
<circle cx="316.74" cy="205.20" r="1.5" fill="#b88484"/>
<circle cx="316.74" cy="172.20" r="1.5" fill="#f8b8f4"/>
<circle cx="316.74" cy="170.20" r="1.5" fill="#f6a0f2"/>
<circle cx="316.74" cy="168.20" r="1.5" fill="#f47cf0"/>
<circle cx="316.74" cy="166.20" r="1.5" fill="#f058ee"/>
<circle cx="316.74" cy="164.40" r="1.5" fill="#ee44ec"/>
<circle cx="324.16" cy="217.10" r="1.45" fill="#2a8a2a"/>
<circle cx="324.16" cy="187.80" r="1.5" fill="#eaa6cc"/>
<circle cx="324.16" cy="196.70" r="1.5" fill="#dc9eb0"/>
<circle cx="324.16" cy="201.60" r="1.5" fill="#cc9098"/>
<circle cx="324.16" cy="205.00" r="1.5" fill="#b88484"/>
<circle cx="324.16" cy="172.60" r="1.5" fill="#f8b8f4"/>
<circle cx="324.16" cy="170.60" r="1.5" fill="#f6a0f2"/>
<circle cx="324.16" cy="168.60" r="1.5" fill="#f47cf0"/>
<circle cx="324.16" cy="166.60" r="1.5" fill="#f058ee"/>
<circle cx="324.16" cy="164.80" r="1.5" fill="#ee44ec"/>
<circle cx="341.13" cy="217.10" r="1.45" fill="#2a8a2a"/>
<circle cx="341.13" cy="184.40" r="1.5" fill="#eeb0d8"/>
<circle cx="341.13" cy="192.50" r="1.5" fill="#dd9fba"/>
<circle cx="341.13" cy="197.40" r="1.5" fill="#d193a4"/>
<circle cx="341.13" cy="202.20" r="1.5" fill="#c4868e"/>
<circle cx="341.13" cy="206.40" r="1.5" fill="#ba7c7b"/>
<circle cx="341.13" cy="184.40" r="1.5" fill="#eeb0d8"/>
<circle cx="341.13" cy="171.40" r="1.5" fill="#f6aaf2"/>
<circle cx="341.13" cy="169.00" r="1.5" fill="#f27cf0"/>
<circle cx="341.13" cy="166.60" r="1.5" fill="#ee50ec"/>
<circle cx="349.69" cy="217.10" r="1.45" fill="#2a8a2a"/>
<circle cx="349.69" cy="188.10" r="1.5" fill="#e9abce"/>
<circle cx="349.69" cy="192.50" r="1.5" fill="#dd9fba"/>
<circle cx="349.69" cy="197.40" r="1.5" fill="#d193a4"/>
<circle cx="349.69" cy="202.20" r="1.5" fill="#c4868e"/>
<circle cx="349.69" cy="206.40" r="1.5" fill="#ba7c7b"/>
<circle cx="349.69" cy="177.20" r="1.5" fill="#eeb0d8"/>
<circle cx="349.69" cy="171.90" r="1.5" fill="#f6aaf2"/>
<circle cx="349.69" cy="169.50" r="1.5" fill="#f27cf0"/>
<circle cx="349.69" cy="167.10" r="1.5" fill="#ee50ec"/>
<circle cx="355.33" cy="217.10" r="1.45" fill="#2a8a2a"/>
<circle cx="355.33" cy="188.10" r="1.5" fill="#e9abce"/>
<circle cx="355.33" cy="192.50" r="1.5" fill="#dd9fba"/>
<circle cx="355.33" cy="197.40" r="1.5" fill="#d193a4"/>
<circle cx="355.33" cy="202.20" r="1.5" fill="#c4868e"/>
<circle cx="355.33" cy="206.40" r="1.5" fill="#ba7c7b"/>
<circle cx="355.33" cy="178.60" r="1.5" fill="#eeb0d8"/>
<circle cx="355.33" cy="172.30" r="1.5" fill="#f6aaf2"/>
<circle cx="355.33" cy="169.90" r="1.5" fill="#f27cf0"/>
<circle cx="355.33" cy="167.50" r="1.5" fill="#ee50ec"/>
<circle cx="361.31" cy="217.10" r="1.45" fill="#2a8a2a"/>
<circle cx="361.31" cy="188.10" r="1.5" fill="#e9abce"/>
<circle cx="361.31" cy="192.50" r="1.5" fill="#dd9fba"/>
<circle cx="361.31" cy="197.40" r="1.5" fill="#d193a4"/>
<circle cx="361.31" cy="202.20" r="1.5" fill="#c4868e"/>
<circle cx="361.31" cy="206.40" r="1.5" fill="#ba7c7b"/>
<circle cx="361.31" cy="181.00" r="1.5" fill="#eeb0d8"/>
<circle cx="361.31" cy="172.80" r="1.5" fill="#f6aaf2"/>
<circle cx="361.31" cy="170.40" r="1.5" fill="#f27cf0"/>
<circle cx="361.31" cy="168.00" r="1.5" fill="#ee50ec"/>
<circle cx="368.11" cy="217.10" r="1.45" fill="#2a8a2a"/>
<circle cx="368.11" cy="188.60" r="1.3" fill="#efb2d6"/>
<circle cx="368.11" cy="190.95" r="1.3" fill="#e9a5c8"/>
<circle cx="368.11" cy="193.30" r="1.3" fill="#e395b7"/>
<circle cx="368.11" cy="195.65" r="1.3" fill="#db84a5"/>
<circle cx="368.11" cy="198.00" r="1.3" fill="#d37291"/>
<circle cx="368.11" cy="200.35" r="1.3" fill="#cb607d"/>
<circle cx="368.11" cy="202.70" r="1.3" fill="#c24c67"/>
<circle cx="368.11" cy="205.05" r="1.3" fill="#ba3852"/>
<circle cx="368.11" cy="207.40" r="1.3" fill="#b0233b"/>
<circle cx="368.11" cy="176.00" r="1.5" fill="#f0b0e4"/>
<circle cx="368.11" cy="184.00" r="1.5" fill="#f0b0e4"/>
<circle cx="368.11" cy="173.40" r="1.5" fill="#f6aaf2"/>
<circle cx="368.11" cy="171.00" r="1.5" fill="#f27cf0"/>
<circle cx="368.11" cy="168.60" r="1.5" fill="#ee50ec"/>
<circle cx="372.93" cy="217.10" r="1.45" fill="#2a8a2a"/>
<circle cx="372.93" cy="188.60" r="1.3" fill="#efb2d6"/>
<circle cx="372.93" cy="190.95" r="1.3" fill="#e9a5c8"/>
<circle cx="372.93" cy="193.30" r="1.3" fill="#e395b7"/>
<circle cx="372.93" cy="195.65" r="1.3" fill="#db84a5"/>
<circle cx="372.93" cy="198.00" r="1.3" fill="#d37291"/>
<circle cx="372.93" cy="200.35" r="1.3" fill="#cb607d"/>
<circle cx="372.93" cy="202.70" r="1.3" fill="#c24c67"/>
<circle cx="372.93" cy="205.05" r="1.3" fill="#ba3852"/>
<circle cx="372.93" cy="207.40" r="1.3" fill="#b0233b"/>
<circle cx="372.93" cy="180.00" r="1.5" fill="#f0b0e4"/>
<circle cx="372.93" cy="173.80" r="1.5" fill="#f6aaf2"/>
<circle cx="372.93" cy="171.40" r="1.5" fill="#f27cf0"/>
<circle cx="372.93" cy="169.00" r="1.5" fill="#ee50ec"/>
<circle cx="379.72" cy="217.10" r="1.45" fill="#2a8a2a"/>
<circle cx="379.72" cy="188.60" r="1.3" fill="#efb2d6"/>
<circle cx="379.72" cy="190.95" r="1.3" fill="#e9a5c8"/>
<circle cx="379.72" cy="193.30" r="1.3" fill="#e395b7"/>
<circle cx="379.72" cy="195.65" r="1.3" fill="#db84a5"/>
<circle cx="379.72" cy="198.00" r="1.3" fill="#d37291"/>
<circle cx="379.72" cy="200.35" r="1.3" fill="#cb607d"/>
<circle cx="379.72" cy="202.70" r="1.3" fill="#c24c67"/>
<circle cx="379.72" cy="205.05" r="1.3" fill="#ba3852"/>
<circle cx="379.72" cy="207.40" r="1.3" fill="#b0233b"/>
<circle cx="379.72" cy="176.50" r="1.5" fill="#f0b0e4"/>
<circle cx="379.72" cy="184.50" r="1.5" fill="#f0b0e4"/>
<circle cx="379.72" cy="174.60" r="1.5" fill="#f6aaf2"/>
<circle cx="379.72" cy="172.20" r="1.5" fill="#f27cf0"/>
<circle cx="379.72" cy="169.80" r="1.5" fill="#ee50ec"/>
<circle cx="384.55" cy="217.10" r="1.45" fill="#2a8a2a"/>
<circle cx="384.55" cy="188.60" r="1.3" fill="#efb2d6"/>
<circle cx="384.55" cy="190.95" r="1.3" fill="#e9a5c8"/>
<circle cx="384.55" cy="193.30" r="1.3" fill="#e395b7"/>
<circle cx="384.55" cy="195.65" r="1.3" fill="#db84a5"/>
<circle cx="384.55" cy="198.00" r="1.3" fill="#d37291"/>
<circle cx="384.55" cy="200.35" r="1.3" fill="#cb607d"/>
<circle cx="384.55" cy="202.70" r="1.3" fill="#c24c67"/>
<circle cx="384.55" cy="205.05" r="1.3" fill="#ba3852"/>
<circle cx="384.55" cy="207.40" r="1.3" fill="#b0233b"/>
<circle cx="384.55" cy="181.50" r="1.5" fill="#f0b0e4"/>
<circle cx="384.55" cy="175.20" r="1.5" fill="#f6aaf2"/>
<circle cx="384.55" cy="172.80" r="1.5" fill="#f27cf0"/>
<circle cx="384.55" cy="170.40" r="1.5" fill="#ee50ec"/>
<circle cx="388.29" cy="217.10" r="1.45" fill="#2a8a2a"/>
<circle cx="388.29" cy="188.60" r="1.3" fill="#efb2d6"/>
<circle cx="388.29" cy="190.95" r="1.3" fill="#e9a5c8"/>
<circle cx="388.29" cy="193.30" r="1.3" fill="#e395b7"/>
<circle cx="388.29" cy="195.65" r="1.3" fill="#db84a5"/>
<circle cx="388.29" cy="198.00" r="1.3" fill="#d37291"/>
<circle cx="388.29" cy="200.35" r="1.3" fill="#cb607d"/>
<circle cx="388.29" cy="202.70" r="1.3" fill="#c24c67"/>
<circle cx="388.29" cy="205.05" r="1.3" fill="#ba3852"/>
<circle cx="388.29" cy="207.40" r="1.3" fill="#b0233b"/>
<circle cx="388.29" cy="178.50" r="1.5" fill="#f0b0e4"/>
<circle cx="388.29" cy="175.80" r="1.5" fill="#f6aaf2"/>
<circle cx="388.29" cy="173.40" r="1.5" fill="#f27cf0"/>
<circle cx="388.29" cy="171.00" r="1.5" fill="#ee50ec"/>
<circle cx="393.93" cy="217.10" r="1.45" fill="#2a8a2a"/>
<circle cx="393.93" cy="188.60" r="1.3" fill="#efb2d6"/>
<circle cx="393.93" cy="190.95" r="1.3" fill="#e9a5c8"/>
<circle cx="393.93" cy="193.30" r="1.3" fill="#e395b7"/>
<circle cx="393.93" cy="195.65" r="1.3" fill="#db84a5"/>
<circle cx="393.93" cy="198.00" r="1.3" fill="#d37291"/>
<circle cx="393.93" cy="200.35" r="1.3" fill="#cb607d"/>
<circle cx="393.93" cy="202.70" r="1.3" fill="#c24c67"/>
<circle cx="393.93" cy="205.05" r="1.3" fill="#ba3852"/>
<circle cx="393.93" cy="207.40" r="1.3" fill="#b0233b"/>
<circle cx="393.93" cy="176.00" r="1.5" fill="#f0b0e4"/>
<circle cx="393.93" cy="183.50" r="1.5" fill="#f0b0e4"/>
<circle cx="393.93" cy="176.80" r="1.5" fill="#f6aaf2"/>
<circle cx="393.93" cy="174.40" r="1.5" fill="#f27cf0"/>
<circle cx="393.93" cy="172.00" r="1.5" fill="#ee50ec"/>
<circle cx="399.90" cy="217.10" r="1.45" fill="#2a8a2a"/>
<circle cx="399.90" cy="187.00" r="1.3" fill="#f0b4d8"/>
<circle cx="399.90" cy="188.60" r="1.3" fill="#efb2d6"/>
<circle cx="399.90" cy="190.20" r="1.3" fill="#eba9cc"/>
<circle cx="399.90" cy="191.80" r="1.3" fill="#e79fc2"/>
<circle cx="399.90" cy="193.40" r="1.3" fill="#e295b6"/>
<circle cx="399.90" cy="195.00" r="1.3" fill="#dd89aa"/>
<circle cx="399.90" cy="196.60" r="1.3" fill="#d87d9d"/>
<circle cx="399.90" cy="198.20" r="1.3" fill="#d3718f"/>
<circle cx="399.90" cy="199.80" r="1.3" fill="#cd6482"/>
<circle cx="399.90" cy="201.40" r="1.3" fill="#c75773"/>
<circle cx="399.90" cy="203.00" r="1.3" fill="#c14965"/>
<circle cx="399.90" cy="204.60" r="1.3" fill="#bb3c56"/>
<circle cx="399.90" cy="206.20" r="1.3" fill="#b52e47"/>
<circle cx="399.90" cy="178.00" r="1.5" fill="#f0b0e4"/>
<circle cx="399.90" cy="178.40" r="1.5" fill="#f6aaf2"/>
<circle cx="399.90" cy="176.00" r="1.5" fill="#f27cf0"/>
<circle cx="399.90" cy="173.60" r="1.5" fill="#ee50ec"/>
<path d="M284.12,162.90 C287.19,163.05 298.04,163.57 302.53,163.80 C307.03,164.03 308.73,164.17 311.10,164.30 C313.46,164.43 314.56,164.48 316.74,164.60 C318.91,164.72 320.09,164.70 324.16,165.00 C328.22,165.30 336.87,166.08 341.13,166.40 C345.38,166.72 347.32,166.75 349.69,166.90 C352.06,167.05 353.39,167.15 355.33,167.30 C357.27,167.45 359.18,167.62 361.31,167.80 C363.44,167.98 366.17,168.23 368.11,168.40 C370.04,168.57 370.99,168.60 372.93,168.80 C374.86,169.00 377.79,169.37 379.72,169.60 C381.66,169.83 383.12,170.00 384.55,170.20 C385.97,170.40 386.72,170.53 388.29,170.80 C389.85,171.07 391.99,171.37 393.93,171.80 C395.86,172.23 398.91,173.13 399.90,173.40" stroke="#000" stroke-width="1.2" fill="none" stroke-opacity="0.85"/>
<path d="M107.6,-0.80 H121.8" stroke="#009e73" stroke-width="1.8"/>
<text x="125.4" y="1.0810000000000002" font-size="5.7" text-anchor="start" >τ=0.1 ms</text>
<path d="M107.6,5.20 H121.8" stroke="#56b4e9" stroke-width="1.8"/>
<text x="125.4" y="7.081" font-size="5.7" text-anchor="start" >τ=0.15 ms</text>
<path d="M107.6,11.90 H121.8" stroke="#e69f00" stroke-width="1.8"/>
<text x="125.4" y="13.781" font-size="5.7" text-anchor="start" >τ=0.2 ms</text>
<path d="M107.6,18.60 H121.8" stroke="#f0e442" stroke-width="1.8" stroke-dasharray="2,4"/>
<text x="125.4" y="20.481" font-size="5.7" text-anchor="start" >τ=0.25 ms</text>
<path d="M107.6,25.30 H121.8" stroke="#0072b2" stroke-width="1.8" stroke-dasharray="5,7.2,1.7,7.2"/>
<text x="125.4" y="27.181" font-size="5.7" text-anchor="start" >τ=0.3 ms</text>
<path d="M107.6,32.00 H121.8" stroke="#e51e10" stroke-width="1.8" stroke-dasharray="11,6"/>
<text x="125.4" y="33.881" font-size="5.7" text-anchor="start" >τ=0.35 ms</text>
<path d="M107.6,38.70 H121.8" stroke="#000000" stroke-width="1.8" stroke-dasharray="4.2,4.6"/>
<text x="125.4" y="40.581" font-size="5.7" text-anchor="start" >τ=0.8 ms</text>
<path d="M160.7,-0.80 H174.6" stroke="#9400d3" stroke-width="1.8" stroke-dasharray="4.5,3.2"/>
<text x="178.2" y="1.0810000000000002" font-size="5.7" text-anchor="start" >τ=1.0 ms</text>
<path d="M160.7,5.20 H174.6" stroke="#009e73" stroke-width="1.8" stroke-dasharray="2.7,2.5"/>
<text x="178.2" y="7.081" font-size="5.7" text-anchor="start" >τ=2.0 ms</text>
<path d="M160.7,11.90 H174.6" stroke="#56b4e9" stroke-width="1.8" stroke-dasharray="3.8,5.5"/>
<text x="178.2" y="13.781" font-size="5.7" text-anchor="start" >τ=3.0 ms</text>
<path d="M160.7,18.60 H174.6" stroke="#e69f00" stroke-width="1.8" stroke-dasharray="1.5,3.25"/>
<text x="178.2" y="20.481" font-size="5.7" text-anchor="start" >τ=4.0 ms</text>
<path d="M160.7,25.30 H174.6" stroke="#f0e442" stroke-width="1.8" stroke-dasharray="11.3,5"/>
<text x="178.2" y="27.181" font-size="5.7" text-anchor="start" >τ=5.0 ms</text>
<path d="M160.7,32.00 H174.6" stroke="#0072b2" stroke-width="1.8" stroke-dasharray="1.6,3.9,7.8,3.9"/>
<text x="178.2" y="33.881" font-size="5.7" text-anchor="start" >τ=6.0 ms</text>
<path d="M160.7,38.70 H174.6" stroke="#e51e10" stroke-width="1.8"/>
<text x="178.2" y="40.581" font-size="5.7" text-anchor="start" >τ=10 ms</text>
<path d="M337.3,3.20 H351.2" stroke="#56b4e9" stroke-width="1.7"/>
<text x="354.7" y="5.081" font-size="5.7" text-anchor="start" >τ=0.15 ms</text>
<path d="M337.3,9.85 H351.2" stroke="#e69f00" stroke-width="1.7"/>
<text x="354.7" y="11.731000000000002" font-size="5.7" text-anchor="start" >τ=0.2 ms</text>
<path d="M337.3,16.50 H351.2" stroke="#f0e442" stroke-width="1.7"/>
<text x="354.7" y="18.381" font-size="5.7" text-anchor="start" >τ=0.25 ms</text>
<path d="M337.3,23.15 H351.2" stroke="#0072b2" stroke-width="1.7"/>
<text x="354.7" y="25.031000000000002" font-size="5.7" text-anchor="start" >τ=0.3 ms</text>
<path d="M337.3,29.80 H351.2" stroke="#f05548" stroke-width="1.7"/>
<text x="354.7" y="31.681" font-size="5.7" text-anchor="start" >τ=0.35 ms</text>
<path d="M337.3,36.45 H351.2" stroke="#000000" stroke-width="1.7" stroke-dasharray="4.2,8.6,1,8"/>
<text x="354.7" y="38.331" font-size="5.7" text-anchor="start" >τ=0.45 ms</text>
<path d="M390.0,3.20 H404.2" stroke="#009e73" stroke-width="1.7" stroke-dasharray="2.8,5,6.4,5"/>
<text x="407.5" y="5.081" font-size="5.7" text-anchor="start" >τ=0.6 ms</text>
<path d="M390.0,9.85 H404.2" stroke="#56b4e9" stroke-width="1.7"/>
<text x="407.5" y="11.731000000000002" font-size="5.7" text-anchor="start" >τ=0.7 ms</text>
<path d="M390.0,16.50 H404.2" stroke="#e69f00" stroke-width="1.7" stroke-dasharray="5.3,7.5,1.4,7"/>
<text x="407.5" y="18.381" font-size="5.7" text-anchor="start" >τ=0.72 ms</text>
<path d="M390.0,23.15 H404.2" stroke="#f0e442" stroke-width="1.7" stroke-dasharray="1.6,4.6"/>
<text x="407.5" y="25.031000000000002" font-size="5.7" text-anchor="start" >τ=0.75 ms</text>
<path d="M390.0,29.80 H404.2" stroke="#0072b2" stroke-width="1.7" stroke-dasharray="4,5.5"/>
<text x="407.5" y="31.681" font-size="5.7" text-anchor="start" >τ=0.8 ms</text>
<path d="M390.0,36.45 H404.2" stroke="#e51e10" stroke-width="1.7"/>
<text x="407.5" y="38.331" font-size="5.7" text-anchor="start" >τ=2.2 ms</text>
<path d="M32.0,133.10 H44.9" stroke="#9400d3" stroke-width="1.7"/>
<text x="48.1" y="134.816" font-size="5.2" text-anchor="start" >τ=0.0 ms</text>
<path d="M32.0,139.00 H44.9" stroke="#009e73" stroke-width="1.7"/>
<text x="48.1" y="140.716" font-size="5.2" text-anchor="start" >τ=0.1 ms</text>
<path d="M32.0,144.90 H44.9" stroke="#56b4e9" stroke-width="1.7"/>
<text x="48.1" y="146.616" font-size="5.2" text-anchor="start" >τ=0.15 ms</text>
<path d="M32.0,150.90 H44.9" stroke="#e69f00" stroke-width="1.7"/>
<text x="48.1" y="152.616" font-size="5.2" text-anchor="start" >τ=0.2 ms</text>
<path d="M80.7,133.10 H93.6" stroke="#f0e442" stroke-width="1.7"/>
<text x="96.3" y="134.816" font-size="5.2" text-anchor="start" >τ=0.25 ms</text>
<path d="M80.7,139.00 H93.6" stroke="#0072b2" stroke-width="1.7"/>
<text x="96.3" y="140.716" font-size="5.2" text-anchor="start" >τ=0.3 ms</text>
<path d="M80.7,144.90 H93.6" stroke="#f05548" stroke-width="1.7"/>
<text x="96.3" y="146.616" font-size="5.2" text-anchor="start" >τ=0.35 ms</text>
<path d="M80.7,150.90 H93.6" stroke="#000000" stroke-width="1.7" stroke-dasharray="3.6,7.5,1,8"/>
<text x="96.3" y="152.616" font-size="5.2" text-anchor="start" >τ=0.45 ms</text>
<path d="M128.8,133.10 H141.9" stroke="#9400d3" stroke-width="1.7"/>
<text x="144.8" y="134.816" font-size="5.2" text-anchor="start" >τ=0.48 ms</text>
<path d="M128.8,139.00 H141.9" stroke="#009e73" stroke-width="1.7" stroke-dasharray="2.5,4.5,6,4.5"/>
<text x="144.8" y="140.716" font-size="5.2" text-anchor="start" >τ=0.6 ms</text>
<path d="M128.8,144.90 H141.9" stroke="#56b4e9" stroke-width="1.7"/>
<text x="144.8" y="146.616" font-size="5.2" text-anchor="start" >τ=0.7 ms</text>
<path d="M128.8,150.90 H141.9" stroke="#e69f00" stroke-width="1.7" stroke-dasharray="4.5,7,1.2,7"/>
<text x="144.8" y="152.616" font-size="5.2" text-anchor="start" >τ=0.72 ms</text>
<path d="M177.1,133.10 H190.3" stroke="#f0e442" stroke-width="1.7" stroke-dasharray="1.5,4.2"/>
<text x="193.3" y="134.816" font-size="5.2" text-anchor="start" >τ=0.75 ms</text>
<path d="M177.1,139.00 H190.3" stroke="#0072b2" stroke-width="1.7" stroke-dasharray="3.6,5.5"/>
<text x="193.3" y="140.716" font-size="5.2" text-anchor="start" >τ=0.8 ms</text>
<path d="M177.1,144.90 H190.3" stroke="#e51e10" stroke-width="1.7"/>
<text x="193.3" y="146.616" font-size="5.2" text-anchor="start" >τ=2.2 ms</text>
<text x="64.5" y="8.9" font-size="8.0" stroke="#000" stroke-width="0.18"><tspan font-family="DejaVu Serif" font-size="7.36">χ</tspan><tspan font-size="5.44" font-style="italic" dy="1.4">Z,st</tspan><tspan dy="-1.4">=0.1 s</tspan><tspan font-size="5.44" dy="-3.2">-1</tspan></text>
<text x="293.4" y="8.3" font-size="8.0" stroke="#000" stroke-width="0.18"><tspan font-family="DejaVu Serif" font-size="7.36">χ</tspan><tspan font-size="5.44" font-style="italic" dy="1.4">Z,st</tspan><tspan dy="-1.4">=100 s</tspan><tspan font-size="5.44" dy="-3.2">-1</tspan></text>
<text x="158.8" y="175.9" font-size="8.0" stroke="#000" stroke-width="0.18"><tspan font-family="DejaVu Serif" font-size="7.36">χ</tspan><tspan font-size="5.44" font-style="italic" dy="1.4">Z,st</tspan><tspan dy="-1.4">=100 s</tspan><tspan font-size="5.44" dy="-3.2">-1</tspan></text>
<text transform="translate(11.2,45.0) rotate(-90)" text-anchor="middle" font-size="8.4" y="2.77" stroke="#000" stroke-width="0.25"><tspan font-style="italic">T</tspan> [K]</text>
<text transform="translate(240.9,44.7) rotate(-90)" text-anchor="middle" font-size="8.4" y="2.77" stroke="#000" stroke-width="0.25"><tspan font-style="italic">T</tspan> [K]</text>
<text transform="translate(240.8,196.6) rotate(-90)" text-anchor="middle" font-size="8.4" y="2.77" stroke="#000" stroke-width="0.25"><tspan font-style="italic">T</tspan><tspan font-size="5.4" font-style="italic" dy="1.6">st</tspan><tspan dy="-1.6"> [K]</tspan></text>
<text transform="translate(9.4,199.8) rotate(-90)" text-anchor="middle" font-size="8.7" y="2.87" stroke="#000" stroke-width="0.25">10<tspan font-size="5.4" dy="-3.2">4</tspan><tspan dy="3.2" font-style="italic">Y</tspan><tspan font-size="5.6" font-style="italic" dy="1.8">H</tspan><tspan font-size="4.3" dy="1.3">2</tspan><tspan font-size="5.6" font-style="italic" dy="-1.3">O</tspan><tspan font-size="4.3" dy="1.3">2</tspan><tspan dy="-3.1"> [-]</tspan></text>
<text x="126.6" y="121.2" font-size="9.2" text-anchor="middle" font-style="italic" stroke="#000" stroke-width="0.25">Z</text>
<text x="355.6" y="121.2" font-size="9.2" text-anchor="middle" font-style="italic" stroke="#000" stroke-width="0.25">Z</text>
<text x="-0.6" y="1.2" font-size="11.5">(<tspan font-style="italic">a</tspan>)</text>
<text x="229.3" y="1.0" font-size="11.5">(<tspan font-style="italic">b</tspan>)</text>
<text x="-0.6" y="156.0" font-size="11.5">(<tspan font-style="italic">c</tspan>)</text>
<text x="228.6" y="155.8" font-size="11.5">(<tspan font-style="italic">d</tspan>)</text>
<path d="M406.7,215.6 V182" stroke="#ff0000" stroke-width="1.4"/>
<path d="M404.6,183.2 L406.7,176.2 L408.8,183.2 Z" fill="#ff0000"/>
<text transform="translate(414.4,195.7) rotate(-90)" text-anchor="middle" font-size="7.2" fill="#ff3a3a" y="2.3">Ignition</text>
<rect x="43.0" y="-8.200000000000003" width="166.00" height="108.00" fill="none" stroke="#000" stroke-width="1"/>
<rect x="272.45" y="-8.299999999999997" width="165.95" height="108.00" fill="none" stroke="#000" stroke-width="1"/>
<rect x="43.1" y="162.2" width="165.80" height="77.30" fill="none" stroke="#000" stroke-width="1"/>
<rect x="272.5" y="157.4" width="166.00" height="79.00" fill="none" stroke="#000" stroke-width="1"/>
<path d="M43.1,239.5 H208.9" stroke="#5a0a18" stroke-width="1.1"/>
</svg>
</body></html>
